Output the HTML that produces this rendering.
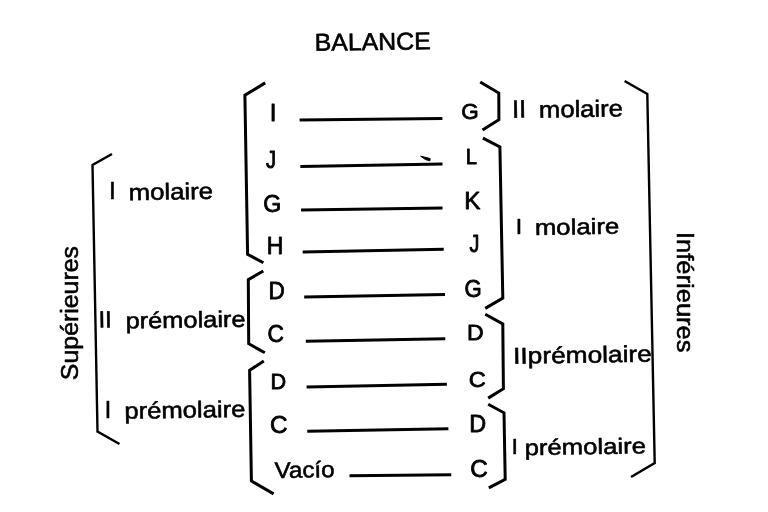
<!DOCTYPE html>
<html><head><meta charset="utf-8"><title>Balance</title>
<style>html,body{margin:0;padding:0;background:#fff;width:768px;height:512px;overflow:hidden}
svg{display:block;will-change:transform}
text{font-family:"Liberation Sans",sans-serif;font-size:100px;fill:#000;stroke:#000;stroke-linejoin:round}
</style></head><body>
<svg width="768" height="512" viewBox="0 0 768 512">
<rect width="768" height="512" fill="#fff"/>
<g fill="none" stroke="#000" stroke-linecap="butt" stroke-linejoin="miter">
<line x1="299.6" y1="120" x2="442.4" y2="118.4" stroke-width="3.0"/>
<line x1="300.3" y1="166.6" x2="442.5" y2="163.9" stroke-width="3.0"/>
<line x1="301.1" y1="210" x2="442.5" y2="208.1" stroke-width="3.0"/>
<line x1="302.7" y1="251.9" x2="443.75" y2="249.2" stroke-width="3.0"/>
<line x1="304.2" y1="296.9" x2="445" y2="294.5" stroke-width="3.0"/>
<line x1="305.8" y1="341.3" x2="445.3" y2="338.75" stroke-width="3.0"/>
<line x1="306.6" y1="386.9" x2="446.9" y2="384.2" stroke-width="3.0"/>
<line x1="307.3" y1="431.25" x2="448.4" y2="428.75" stroke-width="3.0"/>
<line x1="349.5" y1="475.8" x2="451.25" y2="474.7" stroke-width="3.0"/>
<polyline points="265.20,82.90 244.90,95.20 247.60,254.30 263.40,262.70" stroke-width="3.0"/>
<polyline points="263.30,271.00 248.30,279.60 248.70,343.70 264.80,352.70" stroke-width="3.0"/>
<polyline points="263.80,361.00 249.60,370.30 251.40,481.00 273.60,493.90" stroke-width="3.0"/>
<polyline points="480.20,82.00 498.80,93.00 498.90,119.70 482.50,130.10" stroke-width="3.0"/>
<polyline points="482.90,138.20 499.90,147.00 502.80,298.10 485.20,308.40" stroke-width="3.0"/>
<polyline points="485.20,314.30 502.80,323.90 503.40,388.75 488.20,398.10" stroke-width="3.0"/>
<polyline points="488.20,404.20 504.00,412.80 505.20,479.30 488.80,487.80" stroke-width="3.0"/>
<polyline points="112.00,154.00 92.50,165.00 97.50,431.50 119.50,444.00" stroke-width="2.4"/>
<polyline points="624.60,81.00 647.30,94.00 654.70,463.00 631.00,477.00" stroke-width="2.4"/>
<path d="M420.6,156.2 L425,157.2 L430.2,158.6 L429.9,160.8 L425.5,159.6 Z" stroke-width="1" fill="#000"/>
</g>
<g>
<text transform="rotate(-0.75 373.25 41.55) translate(314.56 50.10) scale(0.2492 0.2443)" font-weight="normal" stroke-width="2.43">BALANCE</text>
<text transform="rotate(0 273.20 112.90) translate(269.83 121.20) scale(0.2406 0.2406)" font-weight="normal" stroke-width="3.33">I</text>
<text transform="rotate(0 270.45 159.90) translate(265.90 168.25) scale(0.2024 0.2457)" font-weight="normal" stroke-width="3.57">J</text>
<text transform="rotate(0 272.05 204.35) translate(263.34 212.46) scale(0.2323 0.2352)" font-weight="normal" stroke-width="3.42">G</text>
<text transform="rotate(0 275.10 245.80) translate(266.87 254.00) scale(0.2286 0.2377)" font-weight="normal" stroke-width="3.43">H</text>
<text transform="rotate(0 276.85 290.95) translate(268.40 299.00) scale(0.2254 0.2333)" font-weight="normal" stroke-width="3.49">D</text>
<text transform="rotate(0 275.85 334.35) translate(267.57 342.46) scale(0.2270 0.2352)" font-weight="normal" stroke-width="3.46">C</text>
<text transform="rotate(0 278.70 381.73) translate(270.56 389.30) scale(0.2169 0.2196)" font-weight="normal" stroke-width="3.67">D</text>
<text transform="rotate(0 278.95 424.65) translate(270.09 432.76) scale(0.2429 0.2352)" font-weight="normal" stroke-width="3.35">C</text>
<text transform="rotate(0 469.60 111.25) translate(461.18 119.07) scale(0.2246 0.2268)" font-weight="normal" stroke-width="3.54">G</text>
<text transform="rotate(0 471.75 156.85) translate(465.68 164.30) scale(0.2023 0.2159)" font-weight="normal" stroke-width="3.83">L</text>
<text transform="rotate(0 473.20 201.10) translate(464.36 209.30) scale(0.2421 0.2377)" font-weight="normal" stroke-width="3.33">K</text>
<text transform="rotate(0 473.95 244.50) translate(469.50 252.47) scale(0.1976 0.2343)" font-weight="normal" stroke-width="3.71">J</text>
<text transform="rotate(0 472.90 289.50) translate(464.59 297.47) scale(0.2215 0.2310)" font-weight="normal" stroke-width="3.54">G</text>
<text transform="rotate(0 475.60 332.60) translate(466.96 340.40) scale(0.2305 0.2261)" font-weight="normal" stroke-width="3.50">D</text>
<text transform="rotate(0 477.35 378.95) translate(468.72 386.68) scale(0.2365 0.2239)" font-weight="normal" stroke-width="3.47">C</text>
<text transform="rotate(0 477.90 423.55) translate(469.13 431.50) scale(0.2339 0.2304)" font-weight="normal" stroke-width="3.45">D</text>
<text transform="rotate(0 479.15 468.50) translate(470.29 476.66) scale(0.2429 0.2366)" font-weight="normal" stroke-width="3.34">C</text>
<text transform="rotate(-0.9 304.20 469.35) translate(274.56 477.57) scale(0.2420 0.2253)" font-weight="normal" stroke-width="2.57">Vacío</text>
<text transform="rotate(-0.9 518.98 108.95) translate(512.08 117.60) scale(0.2507 0.2507)" font-weight="normal" stroke-width="2.39">II</text>
<text transform="rotate(-0.9 581.25 108.45) translate(538.90 117.00) scale(0.2566 0.2342)" font-weight="normal" stroke-width="2.44">molaire</text>
<text transform="rotate(0 518.90 226.50) translate(515.69 234.40) scale(0.2290 0.2290)" font-weight="normal" stroke-width="2.62">I</text>
<text transform="rotate(-0.9 577.27 226.25) translate(534.75 234.30) scale(0.2578 0.2205)" font-weight="normal" stroke-width="2.51">molaire</text>
<text transform="rotate(-0.9 583.00 354.20) translate(513.14 362.70) scale(0.2626 0.2297)" font-weight="normal" stroke-width="2.44">IIprémolaire</text>
<text transform="rotate(0 514.75 446.50) translate(511.71 454.00) scale(0.2174 0.2174)" font-weight="normal" stroke-width="2.76">I</text>
<text transform="rotate(-0.9 585.65 446.10) translate(524.60 454.20) scale(0.2570 0.2189)" font-weight="normal" stroke-width="2.52">prémolaire</text>
<text transform="rotate(0 112.45 190.90) translate(109.04 199.30) scale(0.2435 0.2435)" font-weight="normal" stroke-width="2.46">I</text>
<text transform="rotate(-0.9 171.10 191.15) translate(128.60 199.50) scale(0.2576 0.2288)" font-weight="normal" stroke-width="2.47">molaire</text>
<text transform="rotate(-0.9 105.05 319.45) translate(98.63 327.50) scale(0.2333 0.2333)" font-weight="normal" stroke-width="2.57">II</text>
<text transform="rotate(-0.9 185.90 319.20) translate(125.52 327.60) scale(0.2542 0.2270)" font-weight="normal" stroke-width="2.49">prémolaire</text>
<text transform="rotate(0 108.05 409.75) translate(104.82 417.70) scale(0.2304 0.2304)" font-weight="normal" stroke-width="2.60">I</text>
<text transform="rotate(-0.9 185.20 409.25) translate(124.31 417.80) scale(0.2564 0.2311)" font-weight="normal" stroke-width="2.46">prémolaire</text>
<text transform="translate(78.30 380.14) rotate(-90) scale(0.2490 0.2435)" font-weight="normal" stroke-width="2.44">Supérieures</text>
<text transform="translate(676.60 232.00) rotate(90) scale(0.2554 0.2362)" font-weight="normal" stroke-width="2.44">Inférieures</text>
</g>
</svg>
</body></html>
